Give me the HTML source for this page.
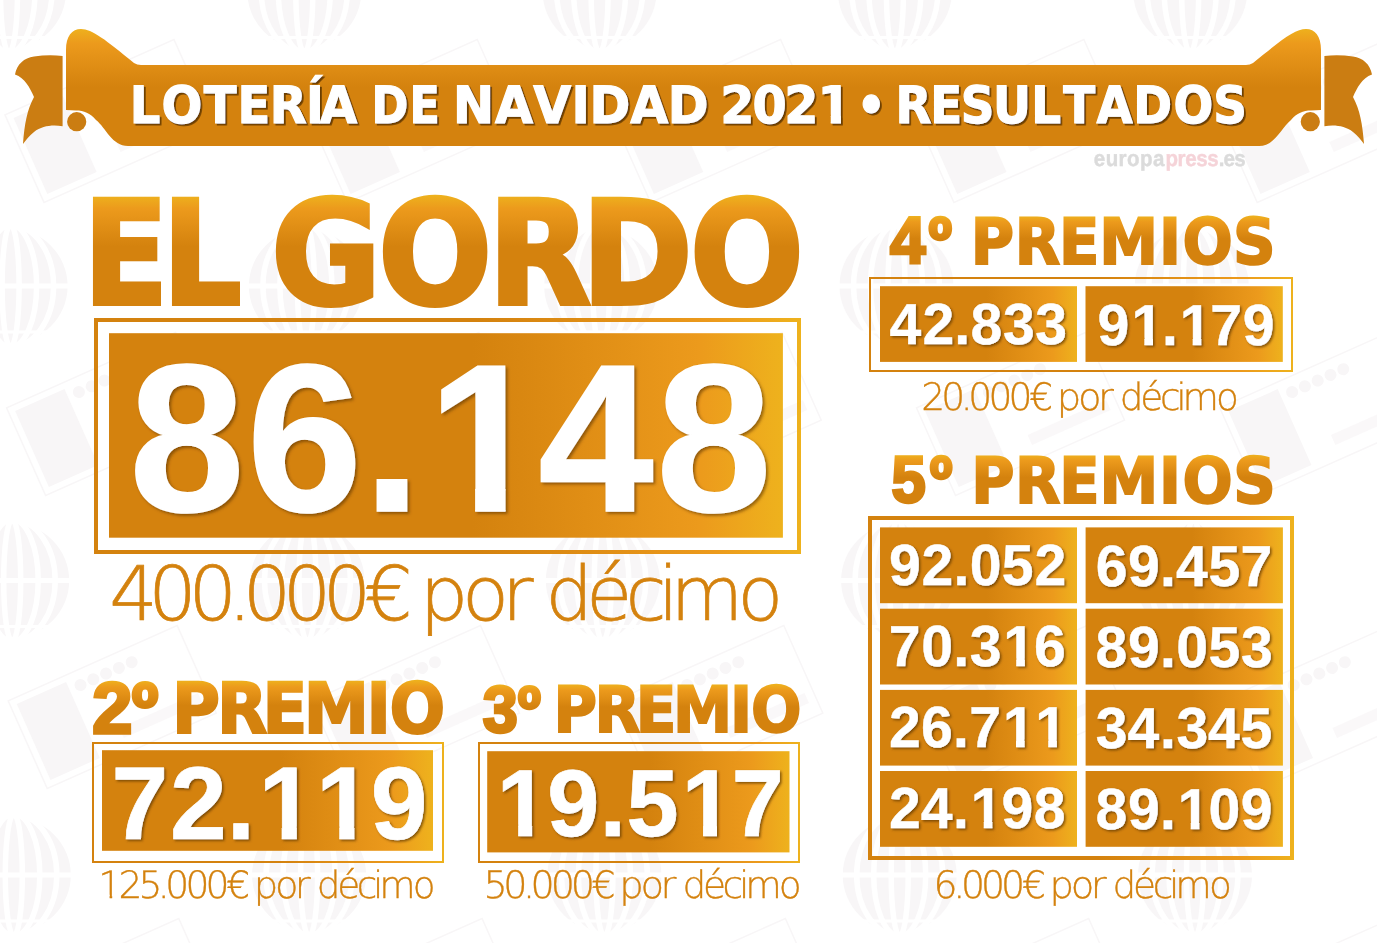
<!DOCTYPE html>
<html lang="es">
<head>
<meta charset="utf-8">
<title>Lotería de Navidad 2021 · Resultados</title>
<style>
html,body{margin:0;padding:0;background:#fff;}
body{width:1377px;height:943px;overflow:hidden;}
svg{display:block;}
text{white-space:pre;text-rendering:geometricPrecision;}
</style>
</head>
<body>
<svg width="1377" height="943" viewBox="0 0 1377 943">
<defs>
<filter id="ds" x="-5%" y="-10%" width="112%" height="125%"><feDropShadow dx="1.6" dy="1.6" stdDeviation="1.1" flood-color="#5a3000" flood-opacity="0.7"/></filter>
<filter id="dsb" x="-5%" y="-10%" width="112%" height="125%"><feDropShadow dx="2" dy="2" stdDeviation="1.6" flood-color="#5a3000" flood-opacity="0.6"/></filter>
<filter id="hs" x="-2%" y="-10%" width="104%" height="125%"><feDropShadow dx="1.8" dy="1.8" stdDeviation="0.25" flood-color="#6b3c05" flood-opacity="1"/></filter>
<linearGradient id="bg" gradientUnits="userSpaceOnUse" x1="0" y1="28" x2="0" y2="146"><stop offset="0" stop-color="#EEB21D"/><stop offset="0.13" stop-color="#EC9A1C"/><stop offset="0.5" stop-color="#D4820E"/><stop offset="1" stop-color="#D4820E"/></linearGradient>
<g id="wb"><circle cx="0" cy="0" r="57" fill="#f8f6f7"/><g fill="none" stroke="#fff" stroke-width="5.5"><ellipse cx="0" cy="0" rx="43" ry="61"/><ellipse cx="0" cy="0" rx="26" ry="61"/><ellipse cx="0" cy="0" rx="8.5" ry="61"/><path d="M-58,0H58" stroke-width="5"/><path d="M-58,46H58" stroke-width="3"/></g></g>
<g id="wt" transform="rotate(-24)"><rect x="-92.5" y="-48" width="185" height="96" fill="none" stroke="#f8f6f7" stroke-width="1.5"/><rect x="-86" y="-41.5" width="54" height="83" fill="#f8f6f7"/><g fill="#f8f6f7"><circle cx="-20" cy="-33" r="6"/><circle cx="-6" cy="-33" r="6"/><circle cx="8" cy="-33" r="6"/><circle cx="22" cy="-33" r="6"/><circle cx="36" cy="-33" r="6"/></g><rect x="-2" y="22" width="86" height="11" fill="#f8f6f7" opacity="0.75"/></g>
<clipPath id="c1"><path d="M709.91,67.46H868.98V114.74H709.91ZM709.91,113.74H821.77V144.56H709.91ZM830.74,113.74H840.95V144.56H830.74ZM849.87,113.74H868.98V144.56H849.87Z"/></clipPath>
<linearGradient id="ep" gradientUnits="userSpaceOnUse" x1="1189.13" y1="0" x2="1354.35" y2="0"><stop offset="0" stop-color="#dbdbdb"/><stop offset="0.4714" stop-color="#dbdbdb"/><stop offset="0.4714" stop-color="#f5d3d8"/><stop offset="0.8217" stop-color="#f5d3d8"/><stop offset="0.8217" stop-color="#dbdbdb"/><stop offset="1" stop-color="#dbdbdb"/></linearGradient>
<linearGradient id="vg1" gradientUnits="userSpaceOnUse" x1="0" y1="194.81" x2="0" y2="307.1"><stop offset="0" stop-color="#EEB21D"/><stop offset="0.125" stop-color="#EC9A1C"/><stop offset="0.46" stop-color="#D4820E"/><stop offset="1" stop-color="#D4820E"/></linearGradient>
<linearGradient id="hg2" gradientUnits="userSpaceOnUse" x1="94" y1="0" x2="801" y2="0"><stop offset="0" stop-color="#D4820E"/><stop offset="0.54" stop-color="#D4820E"/><stop offset="0.875" stop-color="#EC9A1C"/><stop offset="1" stop-color="#EEB21D"/></linearGradient>
<linearGradient id="hg3" gradientUnits="userSpaceOnUse" x1="109" y1="0" x2="782.9" y2="0"><stop offset="0" stop-color="#D4820E"/><stop offset="0.54" stop-color="#D4820E"/><stop offset="0.875" stop-color="#EC9A1C"/><stop offset="1" stop-color="#EEB21D"/></linearGradient>
<clipPath id="c2"><path d="M87.28,280.73H866.59V487.8H87.28ZM87.28,486.8H439.07V596.37H87.28ZM475.1,486.8H505.54V596.37H475.1ZM538.88,486.8H866.59V596.37H538.88Z"/></clipPath>
<linearGradient id="vg4" gradientUnits="userSpaceOnUse" x1="0" y1="680.22" x2="0" y2="734.93"><stop offset="0" stop-color="#EEB21D"/><stop offset="0.125" stop-color="#EC9A1C"/><stop offset="0.46" stop-color="#D4820E"/><stop offset="1" stop-color="#D4820E"/></linearGradient>
<linearGradient id="hg5" gradientUnits="userSpaceOnUse" x1="92" y1="0" x2="444" y2="0"><stop offset="0" stop-color="#D4820E"/><stop offset="0.54" stop-color="#D4820E"/><stop offset="0.875" stop-color="#EC9A1C"/><stop offset="1" stop-color="#EEB21D"/></linearGradient>
<linearGradient id="hg6" gradientUnits="userSpaceOnUse" x1="102" y1="0" x2="433" y2="0"><stop offset="0" stop-color="#D4820E"/><stop offset="0.54" stop-color="#D4820E"/><stop offset="0.875" stop-color="#EC9A1C"/><stop offset="1" stop-color="#EEB21D"/></linearGradient>
<clipPath id="c3"><path d="M90.91,725.09H474.28V826.14H90.91ZM90.91,825.14H263.54V880.29H90.91ZM281.66,825.14H296.83V880.29H281.66ZM313.63,825.14H321.11V880.29H313.63ZM339.24,825.14H354.41V880.29H339.24ZM371.21,825.14H474.28V880.29H371.21Z"/></clipPath>
<clipPath id="c4"><path d="M90.8,856.62H263.82V894.64H90.8ZM90.8,893.64H102.72V913.05H90.8ZM109.62,893.64H112.17V913.05H109.62ZM119.07,893.64H263.82V913.05H119.07Z"/></clipPath>
<linearGradient id="vg7" gradientUnits="userSpaceOnUse" x1="0" y1="684.11" x2="0" y2="733.76"><stop offset="0" stop-color="#EEB21D"/><stop offset="0.125" stop-color="#EC9A1C"/><stop offset="0.46" stop-color="#D4820E"/><stop offset="1" stop-color="#D4820E"/></linearGradient>
<linearGradient id="hg8" gradientUnits="userSpaceOnUse" x1="478" y1="0" x2="800" y2="0"><stop offset="0" stop-color="#D4820E"/><stop offset="0.54" stop-color="#D4820E"/><stop offset="0.875" stop-color="#EC9A1C"/><stop offset="1" stop-color="#EEB21D"/></linearGradient>
<linearGradient id="hg9" gradientUnits="userSpaceOnUse" x1="487.2" y1="0" x2="789.5" y2="0"><stop offset="0" stop-color="#D4820E"/><stop offset="0.54" stop-color="#D4820E"/><stop offset="0.875" stop-color="#EC9A1C"/><stop offset="1" stop-color="#EEB21D"/></linearGradient>
<clipPath id="c5"><path d="M477.89,731.64H826.83V824.27H477.89ZM477.89,823.27H501.45V874.09H477.89ZM518.15,823.27H532.11V874.09H518.15ZM547.6,823.27H686.35V874.09H547.6ZM703.05,823.27H717V874.09H703.05ZM732.49,823.27H826.83V874.09H732.49Z"/></clipPath>
<linearGradient id="vg10" gradientUnits="userSpaceOnUse" x1="0" y1="215.69" x2="0" y2="265.46"><stop offset="0" stop-color="#EEB21D"/><stop offset="0.125" stop-color="#EC9A1C"/><stop offset="0.46" stop-color="#D4820E"/><stop offset="1" stop-color="#D4820E"/></linearGradient>
<linearGradient id="hg11" gradientUnits="userSpaceOnUse" x1="869" y1="0" x2="1293" y2="0"><stop offset="0" stop-color="#D4820E"/><stop offset="0.54" stop-color="#D4820E"/><stop offset="0.875" stop-color="#EC9A1C"/><stop offset="1" stop-color="#EEB21D"/></linearGradient>
<linearGradient id="hg12" gradientUnits="userSpaceOnUse" x1="880" y1="0" x2="1077" y2="0"><stop offset="0" stop-color="#D4820E"/><stop offset="0.54" stop-color="#D4820E"/><stop offset="0.875" stop-color="#EC9A1C"/><stop offset="1" stop-color="#EEB21D"/></linearGradient>
<linearGradient id="hg13" gradientUnits="userSpaceOnUse" x1="1085.5" y1="0" x2="1282.8" y2="0"><stop offset="0" stop-color="#D4820E"/><stop offset="0.54" stop-color="#D4820E"/><stop offset="0.875" stop-color="#EC9A1C"/><stop offset="1" stop-color="#EEB21D"/></linearGradient>
<clipPath id="c6"><path d="M1086.02,281.76H1300.63V337.69H1086.02ZM1086.02,336.69H1133.83V368.68H1086.02ZM1144.33,336.69H1153V368.68H1144.33ZM1162.76,336.69H1182.16V368.68H1162.76ZM1192.66,336.69H1201.33V368.68H1192.66ZM1211.09,336.69H1300.63V368.68H1211.09Z"/></clipPath>
<linearGradient id="vg14" gradientUnits="userSpaceOnUse" x1="0" y1="454.46" x2="0" y2="504.16"><stop offset="0" stop-color="#EEB21D"/><stop offset="0.125" stop-color="#EC9A1C"/><stop offset="0.46" stop-color="#D4820E"/><stop offset="1" stop-color="#D4820E"/></linearGradient>
<linearGradient id="hg15" gradientUnits="userSpaceOnUse" x1="868" y1="0" x2="1294" y2="0"><stop offset="0" stop-color="#D4820E"/><stop offset="0.54" stop-color="#D4820E"/><stop offset="0.875" stop-color="#EC9A1C"/><stop offset="1" stop-color="#EEB21D"/></linearGradient>
<linearGradient id="hg16" gradientUnits="userSpaceOnUse" x1="880" y1="0" x2="1077" y2="0"><stop offset="0" stop-color="#D4820E"/><stop offset="0.54" stop-color="#D4820E"/><stop offset="0.875" stop-color="#EC9A1C"/><stop offset="1" stop-color="#EEB21D"/></linearGradient>
<linearGradient id="hg17" gradientUnits="userSpaceOnUse" x1="1085.6" y1="0" x2="1282.9" y2="0"><stop offset="0" stop-color="#D4820E"/><stop offset="0.54" stop-color="#D4820E"/><stop offset="0.875" stop-color="#EC9A1C"/><stop offset="1" stop-color="#EEB21D"/></linearGradient>
<linearGradient id="hg18" gradientUnits="userSpaceOnUse" x1="880" y1="0" x2="1077" y2="0"><stop offset="0" stop-color="#D4820E"/><stop offset="0.54" stop-color="#D4820E"/><stop offset="0.875" stop-color="#EC9A1C"/><stop offset="1" stop-color="#EEB21D"/></linearGradient>
<linearGradient id="hg19" gradientUnits="userSpaceOnUse" x1="1085.6" y1="0" x2="1282.9" y2="0"><stop offset="0" stop-color="#D4820E"/><stop offset="0.54" stop-color="#D4820E"/><stop offset="0.875" stop-color="#EC9A1C"/><stop offset="1" stop-color="#EEB21D"/></linearGradient>
<clipPath id="c7"><path d="M877.21,602.06H1092.02V657.99H877.21ZM877.21,656.99H1005.71V688.98H877.21ZM1016.21,656.99H1024.88V688.98H1016.21ZM1034.65,656.99H1092.02V688.98H1034.65Z"/></clipPath>
<linearGradient id="hg20" gradientUnits="userSpaceOnUse" x1="880" y1="0" x2="1077" y2="0"><stop offset="0" stop-color="#D4820E"/><stop offset="0.54" stop-color="#D4820E"/><stop offset="0.875" stop-color="#EC9A1C"/><stop offset="1" stop-color="#EEB21D"/></linearGradient>
<linearGradient id="hg21" gradientUnits="userSpaceOnUse" x1="1085.6" y1="0" x2="1282.9" y2="0"><stop offset="0" stop-color="#D4820E"/><stop offset="0.54" stop-color="#D4820E"/><stop offset="0.875" stop-color="#EC9A1C"/><stop offset="1" stop-color="#EEB21D"/></linearGradient>
<clipPath id="c8"><path d="M877.42,683.26H1093.27V739.19H877.42ZM877.42,738.19H1005.47V770.18H877.42ZM1015.98,738.19H1024.65V770.18H1015.98ZM1034.41,738.19H1037.72V770.18H1034.41ZM1048.23,738.19H1056.9V770.18H1048.23ZM1066.66,738.19H1093.27V770.18H1066.66Z"/></clipPath>
<linearGradient id="hg22" gradientUnits="userSpaceOnUse" x1="880" y1="0" x2="1077" y2="0"><stop offset="0" stop-color="#D4820E"/><stop offset="0.54" stop-color="#D4820E"/><stop offset="0.875" stop-color="#EC9A1C"/><stop offset="1" stop-color="#EEB21D"/></linearGradient>
<linearGradient id="hg23" gradientUnits="userSpaceOnUse" x1="1085.6" y1="0" x2="1282.9" y2="0"><stop offset="0" stop-color="#D4820E"/><stop offset="0.54" stop-color="#D4820E"/><stop offset="0.875" stop-color="#EC9A1C"/><stop offset="1" stop-color="#EEB21D"/></linearGradient>
<clipPath id="c9"><path d="M877.42,764.76H1091.69V820.69H877.42ZM877.42,819.69H973.23V851.68H877.42ZM983.73,819.69H992.4V851.68H983.73ZM1002.16,819.69H1091.69V851.68H1002.16Z"/></clipPath>
<clipPath id="c10"><path d="M1084.04,765.46H1298.67V821.39H1084.04ZM1084.04,820.39H1180.19V852.38H1084.04ZM1190.7,820.39H1199.37V852.38H1190.7ZM1209.13,820.39H1298.67V852.38H1209.13Z"/></clipPath>
</defs>
<rect width="1377" height="943" fill="#fff"/>
<g id="watermark"><use href="#wb" x="9.0" y="-8.5"/><use href="#wt" x="109.0" y="121.0"/><use href="#wb" x="304.3" y="-8.5"/><use href="#wt" x="412.3" y="121.0"/><use href="#wb" x="599.6" y="-8.5"/><use href="#wt" x="715.6" y="121.0"/><use href="#wb" x="894.9" y="-8.5"/><use href="#wt" x="1018.9" y="121.0"/><use href="#wb" x="1190.2" y="-8.5"/><use href="#wt" x="1322.2" y="121.0"/><use href="#wb" x="10.6" y="286.0"/><use href="#wt" x="110.6" y="414.0"/><use href="#wb" x="305.9" y="286.0"/><use href="#wt" x="413.9" y="414.0"/><use href="#wb" x="601.2" y="286.0"/><use href="#wt" x="717.2" y="414.0"/><use href="#wb" x="896.5" y="286.0"/><use href="#wt" x="1020.5" y="414.0"/><use href="#wb" x="1191.8" y="286.0"/><use href="#wt" x="1323.8" y="414.0"/><use href="#wb" x="12.2" y="580.5"/><use href="#wt" x="112.2" y="707.0"/><use href="#wb" x="307.5" y="580.5"/><use href="#wt" x="415.5" y="707.0"/><use href="#wb" x="602.8" y="580.5"/><use href="#wt" x="718.8" y="707.0"/><use href="#wb" x="898.1" y="580.5"/><use href="#wt" x="1022.1" y="707.0"/><use href="#wb" x="1193.4" y="580.5"/><use href="#wt" x="1325.4" y="707.0"/><use href="#wb" x="13.8" y="875.0"/><use href="#wt" x="113.8" y="1000.0"/><use href="#wb" x="309.1" y="875.0"/><use href="#wt" x="417.1" y="1000.0"/><use href="#wb" x="604.4" y="875.0"/><use href="#wt" x="720.4" y="1000.0"/><use href="#wb" x="899.7" y="875.0"/><use href="#wt" x="1023.7" y="1000.0"/><use href="#wb" x="1195.0" y="875.0"/><use href="#wt" x="1327.0" y="1000.0"/></g>
<g id="banner"><rect x="149" y="65" width="1089.0" height="81" fill="url(#bg)"/><path d="M66,110 L66,50 C66,36 72,29 81,29 C92,29 106,40 134,63 Q137,65 141,65 L150,65 L150,146 L128,146 C112,146 106,128 96,120 C90,113 84,110.5 76,110.5 Z" fill="url(#bg)"/><path d="M66,110 L66,50 C66,36 72,29 81,29 C92,29 106,40 134,63 Q137,65 141,65 L150,65 L150,146 L128,146 C112,146 106,128 96,120 C90,113 84,110.5 76,110.5 Z" fill="url(#bg)" transform="translate(1387.0,0) scale(-1,1)"/><path d="M62.6,56 L62.6,126.3 C52,124.5 42,126 34,132 C29,136 26,140 23,144 C24.5,124 27,110 34,97 C30,88 25,78 15,74.5 C17,64 24,58 34,56.5 C44,55 54,55 62.6,56 Z" fill="#CB7D12"/><path d="M62.6,56 L62.6,126.3 C52,124.5 42,126 34,132 C29,136 26,140 23,144 C24.5,124 27,110 34,97 C30,88 25,78 15,74.5 C17,64 24,58 34,56.5 C44,55 54,55 62.6,56 Z" fill="#CB7D12" transform="translate(1387.0,0) scale(-1,1)"/><circle cx="76.7" cy="121.7" r="9.6" fill="#CB7D12"/><circle cx="1310.3" cy="121.7" r="9.6" fill="#CB7D12"/></g>
<g filter="url(#hs)"><text transform="scale(1.0364,1)" x="125.31 155.85 196.65 229.16 260.26 295.21 308.82" y="123.46" font-family='"DejaVu Sans Condensed", "DejaVu Sans", "Liberation Sans", sans-serif' font-weight="bold" font-size="51.4" stroke-width="1.08" stroke-linejoin="miter" fill="#fff" stroke="#fff">LOTERÍA</text> <text transform="scale(0.9593,1)" x="387.17 426.8" y="123.46" font-family='"DejaVu Sans Condensed", "DejaVu Sans", "Liberation Sans", sans-serif' font-weight="bold" font-size="51.4" stroke-width="1.08" stroke-linejoin="miter" fill="#fff" stroke="#fff">DE</text> <text transform="scale(1.0596,1)" x="427.6 467.06 503.35 539.27 556.25 594.85 630.25" y="123.46" font-family='"DejaVu Sans Condensed", "DejaVu Sans", "Liberation Sans", sans-serif' font-weight="bold" font-size="51.4" stroke-width="1.08" stroke-linejoin="miter" fill="#fff" stroke="#fff">NAVIDAD</text> <g clip-path="url(#c1)"><text transform="scale(1.0606,1)" x="679.05 709.5 739.52 770.88" y="123.46" font-family='"DejaVu Sans Condensed", "DejaVu Sans", "Liberation Sans", sans-serif' font-weight="bold" font-size="51.4" stroke-width="1.08" stroke-linejoin="miter" fill="#fff" stroke="#fff">2021</text></g> <text transform="scale(0.9971,1)" x="859.11" y="123.46" font-family='"DejaVu Sans Condensed", "DejaVu Sans", "Liberation Sans", sans-serif' font-weight="bold" font-size="51.4" stroke-width="1.08" stroke-linejoin="miter" fill="#fff" stroke="#fff">•</text> <text transform="scale(1.0084,1)" x="888.05 922.47 952.76 984.76 1022.55 1054.43 1087.48 1123.72 1163.63 1203.18" y="123.46" font-family='"DejaVu Sans Condensed", "DejaVu Sans", "Liberation Sans", sans-serif' font-weight="bold" font-size="51.4" stroke-width="1.08" stroke-linejoin="miter" fill="#fff" stroke="#fff">RESULTADOS</text></g>
<text transform="scale(0.9200,1)" x="1188.91 1201.79 1215.88 1225.03 1239.12 1253.22 1266.79 1279.96 1288.19 1300.15 1312.1 1324.68 1330.02 1341.56" y="166.2" font-family='"Liberation Sans", sans-serif' font-weight="bold" font-size="22.3" fill="url(#ep)" stroke="url(#ep)" stroke-width="0.4">europapress.es</text>
<g><text transform="scale(0.9541,1)" x="87.63 170.19" y="303.61" font-family='"DejaVu Sans Condensed", "DejaVu Sans", "Liberation Sans", sans-serif' font-weight="bold" font-size="144.37" stroke-width="3.98" stroke-linejoin="miter" fill="url(#vg1)" stroke="url(#vg1)">EL</text> <text transform="scale(1.0300,1)" x="263.41 367.16 473.9 564.6 669.87" y="303.61" font-family='"DejaVu Sans Condensed", "DejaVu Sans", "Liberation Sans", sans-serif' font-weight="bold" font-size="144.37" stroke-width="3.98" stroke-linejoin="miter" fill="url(#vg1)" stroke="url(#vg1)">GORDO</text></g>
<rect x="96" y="320" width="703" height="232" fill="none" stroke="url(#hg2)" stroke-width="4"/>
<rect x="109" y="333.2" width="673.9" height="204.5" fill="url(#hg3)"/>
<g filter="url(#dsb)"><g clip-path="url(#c2)"><text transform="scale(0.9850,1)" x="131.33 250.57 368.84 434.24 546.45 666.15" y="511.48" font-family='"Liberation Sans", sans-serif' font-weight="bold" font-size="210.43" stroke-width="1.43" stroke-linejoin="miter" fill="#fff" stroke="#fff">86.148</text></g></g>
<g><text transform="scale(1.0144,1)" x="107.66 146.08 185.76 224.42 239.21 278.78 318.18 359.04" y="620.05" font-family='"DejaVu Sans", "Liberation Sans", sans-serif' font-weight="200" font-size="75.16" stroke-width="0.7" stroke-linejoin="miter" fill="#D4820E" stroke="#D4820E">400.000€</text> <text transform="scale(1.0247,1)" x="409.4 450.97 489.63" y="620.05" font-family='"DejaVu Sans", "Liberation Sans", sans-serif' font-weight="200" font-size="75.16" stroke-width="0.7" stroke-linejoin="miter" fill="#D4820E" stroke="#D4820E">por</text> <text transform="scale(0.9933,1)" x="549.12 590.27 629.67 662.53 675.11 742.38" y="620.05" font-family='"DejaVu Sans", "Liberation Sans", sans-serif' font-weight="200" font-size="75.16" stroke-width="0.7" stroke-linejoin="miter" fill="#D4820E" stroke="#D4820E">décimo</text></g>
<text transform="scale(0.9948,1)" x="92.67 132.38" y="732.52" font-family='"Liberation Sans", sans-serif' font-weight="bold" font-size="72.48" stroke-width="3.35" stroke-linejoin="miter" fill="url(#vg4)" stroke="url(#vg4)">2º</text>
<text transform="scale(1.0350,1)" x="166.15 209.72 253.66 293.44 354.17 376.29" y="733.23" font-family='"DejaVu Sans Condensed", "DejaVu Sans", "Liberation Sans", sans-serif' font-weight="bold" font-size="70.35" stroke-width="1.94" stroke-linejoin="miter" fill="url(#vg4)" stroke="url(#vg4)">PREMIO</text>
<rect x="93" y="743" width="350" height="119" fill="none" stroke="url(#hg5)" stroke-width="2"/>
<rect x="102" y="750.2" width="331" height="100.6" fill="url(#hg6)"/>
<g filter="url(#ds)"><g clip-path="url(#c3)"><text transform="scale(0.9850,1)" x="113.3 172.55 230.25 262.41 320.86 376.46" y="838.55" font-family='"Liberation Sans", sans-serif' font-weight="bold" font-size="103.46" stroke-width="0.7" stroke-linejoin="miter" fill="#fff" stroke="#fff">72.119</text></g></g>
<g><g clip-path="url(#c4)"><text transform="scale(1.0004,1)" x="98.29 118.33 138.49 157.64 165.25 185.33 205.33 226.12" y="897.82" font-family='"DejaVu Sans", "Liberation Sans", sans-serif' font-weight="200" font-size="37.62" stroke-width="0.35" stroke-linejoin="miter" fill="#D4820E" stroke="#D4820E">125.000€</text></g> <text transform="scale(1.0247,1)" x="247.54 268.35 287.7" y="897.82" font-family='"DejaVu Sans", "Liberation Sans", sans-serif' font-weight="200" font-size="37.62" stroke-width="0.35" stroke-linejoin="miter" fill="#D4820E" stroke="#D4820E">por</text> <text transform="scale(0.9933,1)" x="318.83 339.43 359.15 375.6 381.89 415.57" y="897.82" font-family='"DejaVu Sans", "Liberation Sans", sans-serif' font-weight="200" font-size="37.62" stroke-width="0.35" stroke-linejoin="miter" fill="#D4820E" stroke="#D4820E">décimo</text></g>
<text transform="scale(0.9570,1)" x="504.48 541.12" y="731.58" font-family='"Liberation Sans", sans-serif' font-weight="bold" font-size="65.78" stroke-width="3.04" stroke-linejoin="miter" fill="url(#vg7)" stroke="url(#vg7)">3º</text>
<text transform="scale(1.0350,1)" x="534.8 574.34 614.21 650.31 705.43 725.49" y="732.22" font-family='"DejaVu Sans Condensed", "DejaVu Sans", "Liberation Sans", sans-serif' font-weight="bold" font-size="63.84" stroke-width="1.76" stroke-linejoin="miter" fill="url(#vg7)" stroke="url(#vg7)">PREMIO</text>
<rect x="479" y="743" width="320" height="119" fill="none" stroke="url(#hg8)" stroke-width="2"/>
<rect x="487.2" y="751.2" width="302.3" height="101.2" fill="url(#hg9)"/>
<g filter="url(#ds)"><g clip-path="url(#c5)"><text transform="scale(0.9850,1)" x="504.45 555.49 609 635.94 692.16 743.01" y="835.78" font-family='"Liberation Sans", sans-serif' font-weight="bold" font-size="94.96" stroke-width="0.65" stroke-linejoin="miter" fill="#fff" stroke="#fff">19.517</text></g></g>
<g><text transform="scale(1.0082,1)" x="479.46 499.18 518.69 526.2 546.18 566.08 586.73" y="897.62" font-family='"DejaVu Sans", "Liberation Sans", sans-serif' font-weight="200" font-size="37.72" stroke-width="0.35" stroke-linejoin="miter" fill="#D4820E" stroke="#D4820E">50.000€</text> <text transform="scale(1.0247,1)" x="604.25 625.11 644.51" y="897.62" font-family='"DejaVu Sans", "Liberation Sans", sans-serif' font-weight="200" font-size="37.72" stroke-width="0.35" stroke-linejoin="miter" fill="#D4820E" stroke="#D4820E">por</text> <text transform="scale(0.9933,1)" x="687 707.66 727.43 743.92 750.23 784" y="897.62" font-family='"DejaVu Sans", "Liberation Sans", sans-serif' font-weight="200" font-size="37.72" stroke-width="0.35" stroke-linejoin="miter" fill="#D4820E" stroke="#D4820E">décimo</text></g>
<text transform="scale(0.9654,1)" x="921.83 961.91" y="263.27" font-family='"Liberation Sans", sans-serif' font-weight="bold" font-size="65.94" stroke-width="3.05" stroke-linejoin="miter" fill="url(#vg10)" stroke="url(#vg10)">4º</text>
<text transform="scale(1.0260,1)" x="946.21 989 1032.07 1071.33 1129.57 1152.52 1201.87" y="263.92" font-family='"DejaVu Sans Condensed", "DejaVu Sans", "Liberation Sans", sans-serif' font-weight="bold" font-size="64" stroke-width="1.76" stroke-linejoin="miter" fill="url(#vg10)" stroke="url(#vg10)">PREMIOS</text>
<rect x="870" y="278" width="422" height="93" fill="none" stroke="url(#hg11)" stroke-width="2"/>
<rect x="880" y="286.2" width="197" height="75.7" fill="url(#hg12)"/>
<rect x="1085.5" y="286.2" width="197.3" height="75.7" fill="url(#hg13)"/>
<g filter="url(#ds)"><text transform="scale(0.9850,1)" x="903.17 936.49 968.8 985.2 1018.32 1051.06" y="343.7" font-family='"Liberation Sans", sans-serif' font-weight="bold" font-size="57.95" stroke-width="0.39" stroke-linejoin="miter" fill="#fff" stroke="#fff">42.833</text></g>
<g filter="url(#ds)"><g clip-path="url(#c6)"><text transform="scale(0.9850,1)" x="1114.32 1148.66 1179.71 1197.72 1228.76 1261.61" y="345.3" font-family='"Liberation Sans", sans-serif' font-weight="bold" font-size="57.95" stroke-width="0.39" stroke-linejoin="miter" fill="#fff" stroke="#fff">91.179</text></g></g>
<g><text transform="scale(0.9968,1)" x="924.33 944.17 963.76 971.42 991.6 1011.7 1032.6" y="410.32" font-family='"DejaVu Sans", "Liberation Sans", sans-serif' font-weight="200" font-size="37.67" stroke-width="0.35" stroke-linejoin="miter" fill="#D4820E" stroke="#D4820E">20.000€</text> <text transform="scale(1.0247,1)" x="1031.21 1052.05 1071.43" y="410.32" font-family='"DejaVu Sans", "Liberation Sans", sans-serif' font-weight="200" font-size="37.67" stroke-width="0.35" stroke-linejoin="miter" fill="#D4820E" stroke="#D4820E">por</text> <text transform="scale(0.9933,1)" x="1127.42 1148.05 1167.8 1184.27 1190.57 1224.29" y="410.32" font-family='"DejaVu Sans", "Liberation Sans", sans-serif' font-weight="200" font-size="37.67" stroke-width="0.35" stroke-linejoin="miter" fill="#D4820E" stroke="#D4820E">décimo</text></g>
<text transform="scale(0.9357,1)" x="952.81 993.74" y="501.98" font-family='"Liberation Sans", sans-serif' font-weight="bold" font-size="65.85" stroke-width="3.05" stroke-linejoin="miter" fill="url(#vg14)" stroke="url(#vg14)">5º</text>
<text transform="scale(1.0260,1)" x="946.63 989.36 1032.36 1071.57 1129.73 1152.65 1201.92" y="502.62" font-family='"DejaVu Sans Condensed", "DejaVu Sans", "Liberation Sans", sans-serif' font-weight="bold" font-size="63.91" stroke-width="1.76" stroke-linejoin="miter" fill="url(#vg14)" stroke="url(#vg14)">PREMIOS</text>
<rect x="870" y="518" width="422" height="340" fill="none" stroke="url(#hg15)" stroke-width="4"/>
<rect x="880" y="527.4" width="197" height="75.8" fill="url(#hg16)"/>
<rect x="1085.6" y="527.4" width="197.3" height="75.8" fill="url(#hg17)"/>
<g filter="url(#ds)"><text transform="scale(0.9850,1)" x="902.55 935.62 967.94 984.41 1017.12 1050.17" y="584.6" font-family='"Liberation Sans", sans-serif' font-weight="bold" font-size="57.95" stroke-width="0.39" stroke-linejoin="miter" fill="#fff" stroke="#fff">92.052</text></g>
<g filter="url(#ds)"><text transform="scale(0.9850,1)" x="1112.41 1145.07 1177.72 1193.89 1226.9 1259.5" y="585.6" font-family='"Liberation Sans", sans-serif' font-weight="bold" font-size="57.95" stroke-width="0.39" stroke-linejoin="miter" fill="#fff" stroke="#fff">69.457</text></g>
<rect x="880" y="608.7" width="197" height="75.8" fill="url(#hg18)"/>
<rect x="1085.6" y="608.7" width="197.3" height="75.8" fill="url(#hg19)"/>
<g filter="url(#ds)"><g clip-path="url(#c7)"><text transform="scale(0.9850,1)" x="902.33 935.24 967.84 984.62 1018.59 1049.81" y="665.6" font-family='"Liberation Sans", sans-serif' font-weight="bold" font-size="57.95" stroke-width="0.39" stroke-linejoin="miter" fill="#fff" stroke="#fff">70.316</text></g></g>
<g filter="url(#ds)"><text transform="scale(0.9850,1)" x="1112.31 1145.07 1177.72 1194.19 1226.9 1259.98" y="667" font-family='"Liberation Sans", sans-serif' font-weight="bold" font-size="57.95" stroke-width="0.39" stroke-linejoin="miter" fill="#fff" stroke="#fff">89.053</text></g>
<rect x="880" y="689.9" width="197" height="75.7" fill="url(#hg20)"/>
<rect x="1085.6" y="689.9" width="197.3" height="75.7" fill="url(#hg21)"/>
<g filter="url(#ds)"><g clip-path="url(#c8)"><text transform="scale(0.9850,1)" x="902.55 935.03 967.6 983.9 1018.35 1051.09" y="746.8" font-family='"Liberation Sans", sans-serif' font-weight="bold" font-size="57.95" stroke-width="0.39" stroke-linejoin="miter" fill="#fff" stroke="#fff">26.711</text></g></g>
<g filter="url(#ds)"><text transform="scale(0.9850,1)" x="1112.53 1144.66 1177.55 1194.33 1226.46 1259.47" y="748" font-family='"Liberation Sans", sans-serif' font-weight="bold" font-size="57.95" stroke-width="0.39" stroke-linejoin="miter" fill="#fff" stroke="#fff">34.345</text></g>
<rect x="880" y="771" width="197" height="75.8" fill="url(#hg22)"/>
<rect x="1085.6" y="771" width="197.3" height="75.8" fill="url(#hg23)"/>
<g filter="url(#ds)"><g clip-path="url(#c9)"><text transform="scale(0.9850,1)" x="902.55 934.71 967.6 985.61 1016.76 1049.48" y="828.3" font-family='"Liberation Sans", sans-serif' font-weight="bold" font-size="57.95" stroke-width="0.39" stroke-linejoin="miter" fill="#fff" stroke="#fff">24.198</text></g></g>
<g filter="url(#ds)"><g clip-path="url(#c10)"><text transform="scale(0.9850,1)" x="1112.31 1145.07 1177.72 1195.73 1226.93 1259.61" y="829" font-family='"Liberation Sans", sans-serif' font-weight="bold" font-size="57.95" stroke-width="0.39" stroke-linejoin="miter" fill="#fff" stroke="#fff">89.109</text></g></g>
<g><text transform="scale(1.0025,1)" x="931.29 950.95 958.54 978.61 998.6 1019.37" y="897.82" font-family='"DejaVu Sans", "Liberation Sans", sans-serif' font-weight="200" font-size="37.69" stroke-width="0.35" stroke-linejoin="miter" fill="#D4820E" stroke="#D4820E">6.000€</text> <text transform="scale(1.0247,1)" x="1024.13 1044.97 1064.36" y="897.82" font-family='"DejaVu Sans", "Liberation Sans", sans-serif' font-weight="200" font-size="37.69" stroke-width="0.35" stroke-linejoin="miter" fill="#D4820E" stroke="#D4820E">por</text> <text transform="scale(0.9933,1)" x="1120.13 1140.76 1160.52 1177 1183.3 1217.04" y="897.82" font-family='"DejaVu Sans", "Liberation Sans", sans-serif' font-weight="200" font-size="37.69" stroke-width="0.35" stroke-linejoin="miter" fill="#D4820E" stroke="#D4820E">décimo</text></g>
</svg>
</body>
</html>
